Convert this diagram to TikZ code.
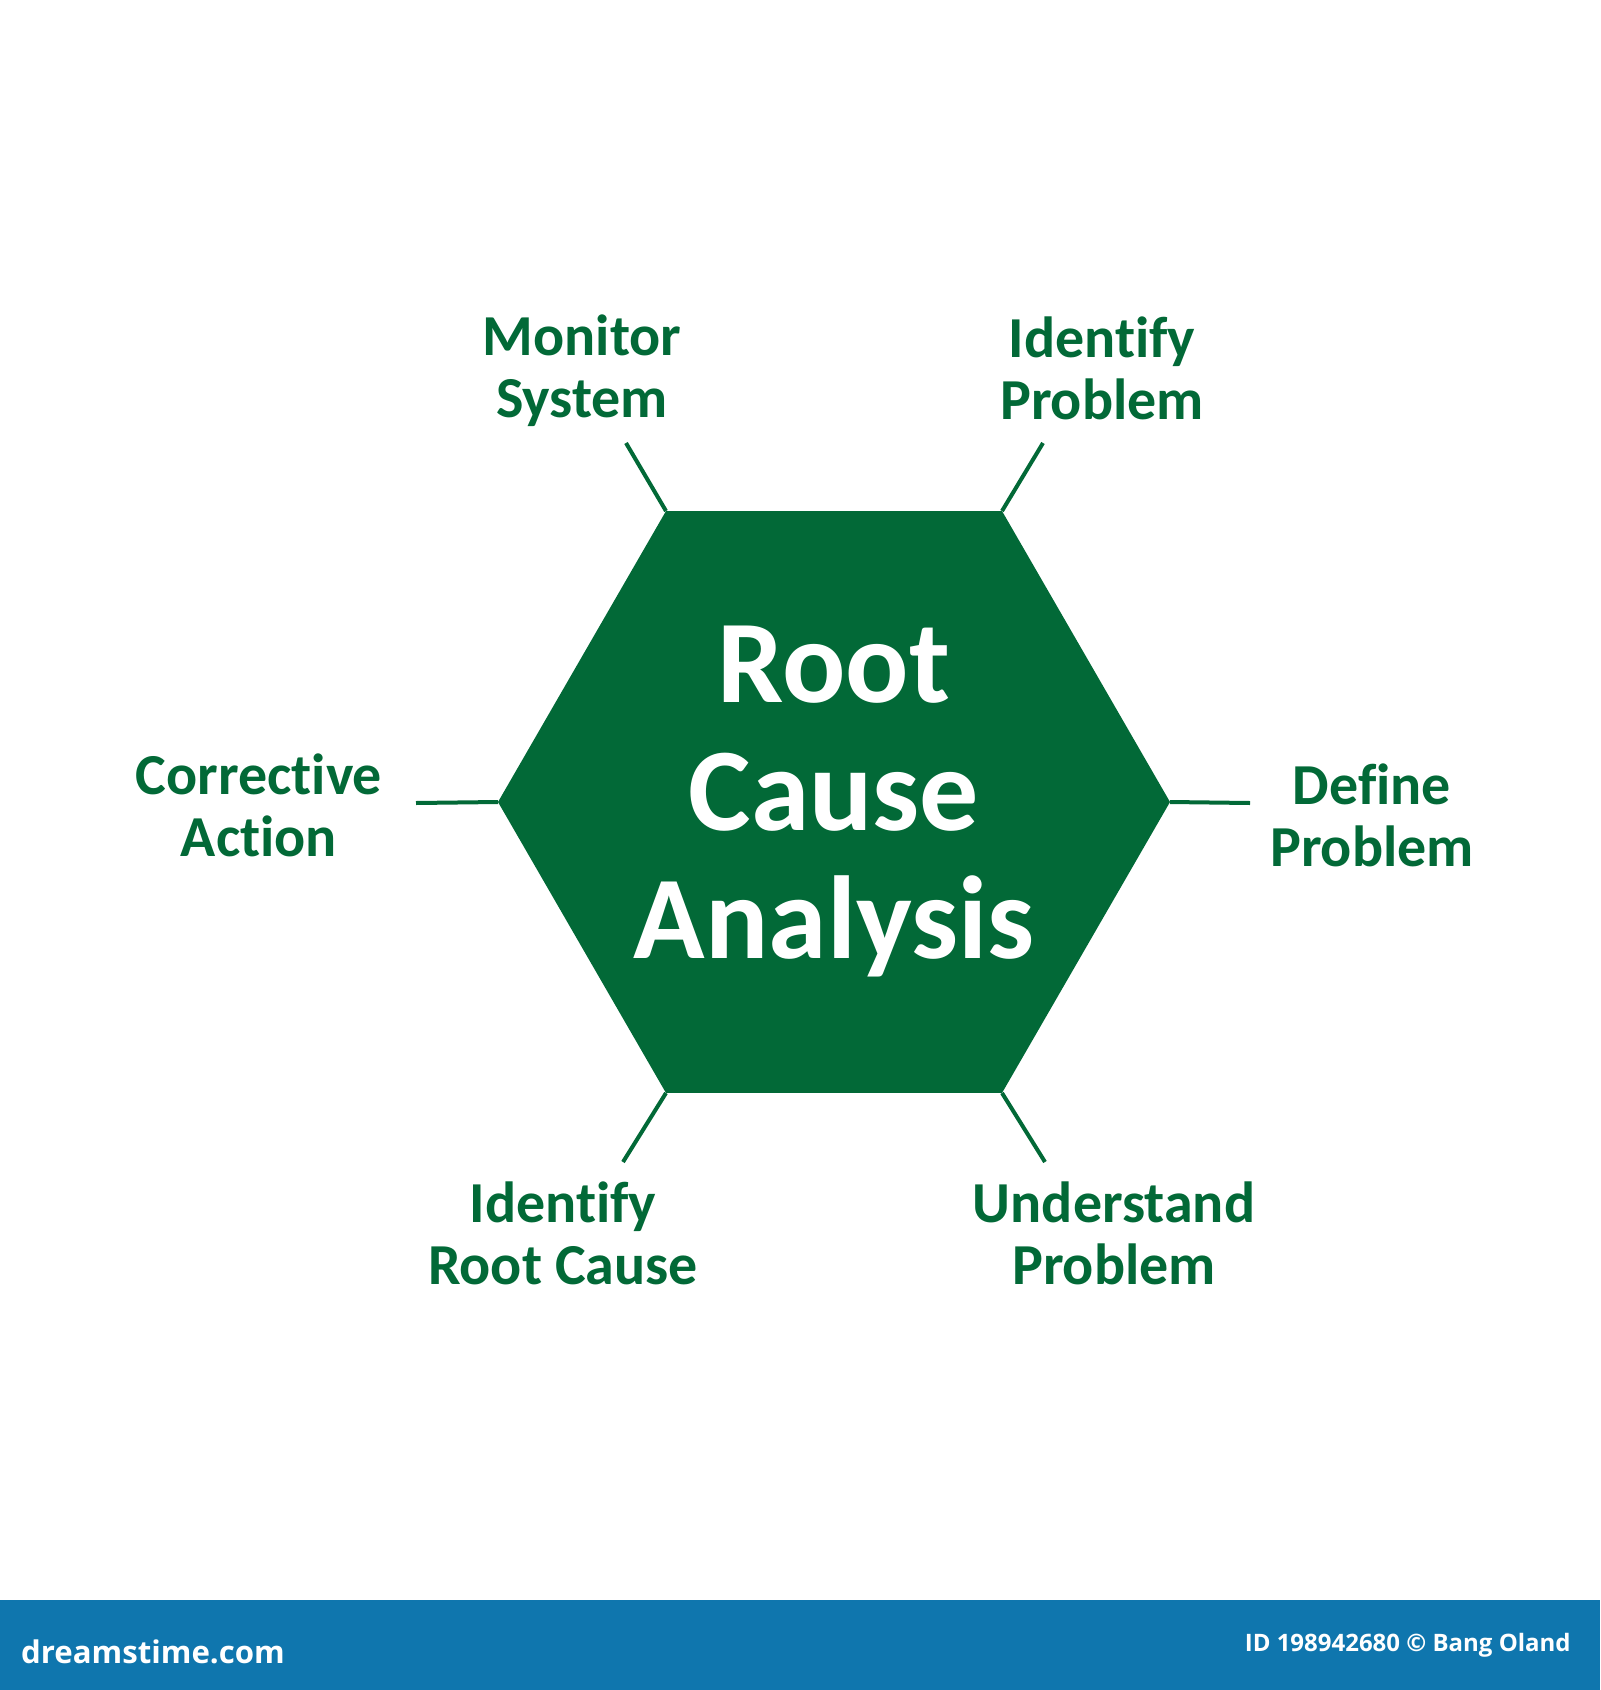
\documentclass[tikz,border=0pt]{standalone}
\usepackage{fontspec}
\setmainfont[Ligatures=NoCommon]{Carlito}
\newfontfamily\barfont{Open Sans}
\usepackage{xcolor}
\usetikzlibrary{shapes.geometric}
\definecolor{hexgreen}{HTML}{026937}
\definecolor{barblue}{HTML}{0F76AE}

\begin{document}
\begin{tikzpicture}
    [x=0.5pt, y=-0.5pt,
      % Stil für die Beschriftungen
      lab/.style={text=hexgreen, align=center, font=\fontsize{29}{31}\selectfont\bfseries, inner sep=0pt},
      % Stil für das Sechseck
      hex/.style={regular polygon, regular polygon sides=6, fill=hexgreen, text=white, align=center, minimum size=336pt, inner sep=0pt, outer sep=0pt, font=\fontsize{59}{64}\selectfont\bfseries},
      spoke/.style={draw=hexgreen, line width=2pt},
      bar/.style={rectangle, fill=barblue, inner sep=0pt, outer sep=0pt, minimum width=800pt, minimum height=45pt},
      bartext/.style={text=white, inner sep=0pt}]
    \useasboundingbox (0,0) rectangle (1600,1690);
    % Knoten
    \node[hex] (core) at (834,802) {Root\\Cause\\Analysis};
    \node[lab] (monitor) at (582,371) {Monitor\\System};
    \node[lab] (identify) at (1102,368) {Identify\\Problem};
    \node[lab] (define) at (1372,815) {Define\\Problem};
    \node[lab] (understand) at (1114,1233) {Understand\\Problem};
    \node[lab] (rootcause) at (563,1233) {Identify\\Root Cause};
    \node[lab] (corrective) at (259,805) {Corrective\\Action};
    \coordinate (endmonitor) at (626,443);
    \coordinate (endidentify) at (1043,443);
    \coordinate (enddefine) at (1250,803);
    \coordinate (endunderstand) at (1045,1162);
    \coordinate (endrootcause) at (623,1162);
    \coordinate (endcorrective) at (416,803);
    % Leiste
    \node[bar] (footer) at (800,1645) {};
    \node[bartext, font=\fontsize{15.6}{18}\selectfont\bfseries\barfont] (site) at (153,1652) {dreamstime.com};
    \node[bartext, font=\fontsize{12}{14}\selectfont\bfseries\barfont, anchor=east] (credit) at (1571,1645) {ID 198942680 © Bang Oland};
    % Kanten
    \path[spoke]
      (core.corner 1) edge (endidentify)
      (core.corner 2) edge (endmonitor)
      (core.corner 3) edge (endcorrective)
      (core.corner 4) edge (endrootcause)
      (core.corner 5) edge (endunderstand)
      (core.corner 6) edge (enddefine);
  \end{tikzpicture}
\end{document}
